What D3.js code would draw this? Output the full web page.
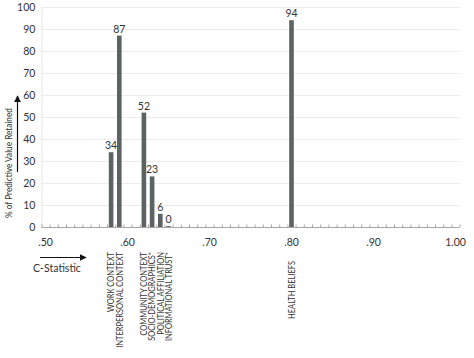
<!DOCTYPE html>
<html>
<head>
<meta charset="utf-8">
<script src="https://cdn.jsdelivr.net/npm/d3@7"></script>
<style>
  html, body { margin: 0; padding: 0; background: #fff; }
  svg { display: block; }
  text { font-family: Lato, "Open Sans", sans-serif; fill: #333; }
</style>
</head>
<body>
<svg id="chart" width="474" height="358"></svg>
<script>
// ---- data ----
const categories = ["WORK CONTEXT", "INTERPERSONAL CONTEXT", "COMMUNITY CONTEXT",
  "SOCIO-DEMOGRAPHICS*", "POLITICAL AFFILIATION", "INFORMATIONAL TRUST*", "HEALTH BELIEFS"];
const cStatistic = [0.58, 0.59, 0.62, 0.63, 0.64, 0.65, 0.80];
const pctRetained = [34, 87, 52, 23, 6, 0.4, 94];
const xTickLabels = [".50", ".60", ".70", ".80", ".90", "1.00"];
const xTickValues = [0.50, 0.60, 0.70, 0.80, 0.90, 1.00];
const yTickValues = [0, 10, 20, 30, 40, 50, 60, 70, 80, 90, 100];

const svg = d3.select("#chart");
const x = d3.scaleLinear().domain([0.5, 1.0]).range([45.5, 455.5]);
const y = d3.scaleLinear().domain([0, 100]).range([227, 7]);
const x0 = x(0.495), x1 = x(1.005);

// gridlines
svg.append("g").selectAll("line").data(yTickValues.filter(d => d > 0)).join("line")
  .attr("x1", x0).attr("x2", x1)
  .attr("y1", d => y(d) + 0.5).attr("y2", d => y(d) + 0.5)
  .attr("stroke", "#ececec").attr("stroke-width", 1);

// y axis (light line, no ticks)
const yAxis = d3.axisLeft(y).tickValues(yTickValues).tickSize(0).tickPadding(6);
const gy = svg.append("g").attr("transform", `translate(${x0},0)`).call(yAxis);
gy.select(".domain").attr("stroke", "#e6e6e6");
gy.selectAll("text").attr("font-size", 10.5).attr("fill", "#333")
  .attr("font-family", "Lato, sans-serif");

// bars
const bw = 4.6;
svg.append("g").selectAll("rect").data(cStatistic).join("rect")
  .attr("x", d => x(d) - bw / 2)
  .attr("y", (d, i) => y(pctRetained[i]))
  .attr("width", bw)
  .attr("height", (d, i) => y(0) - y(pctRetained[i]))
  .attr("fill", "#5b6363");

// value labels
const fmt = d3.format(".0f");
svg.append("g").selectAll("text").data(cStatistic).join("text")
  .attr("x", d => x(d))
  .attr("y", (d, i) => y(pctRetained[i]) - 3)
  .attr("text-anchor", "middle")
  .attr("font-size", 10.5)
  .text((d, i) => fmt(pctRetained[i]));

// x axis: minor ticks between categories
const minorTicks = d3.range(0, 52).map(k => 0.495 + k * 0.01);
const xAxis = d3.axisBottom(x).tickValues(minorTicks).tickSize(-3).tickFormat("");
const gx = svg.append("g").attr("transform", `translate(0,${y(0) + 0.5})`).call(xAxis);
gx.select(".domain").attr("stroke", "#a8a8a8").attr("d", `M${x0},0H${x1}`);
gx.selectAll(".tick line").attr("stroke", "#a8a8a8");

// x tick labels
svg.append("g").selectAll("text").data(xTickValues).join("text")
  .attr("x", d => x(d))
  .attr("y", 246)
  .attr("text-anchor", "middle")
  .attr("font-size", 10.5)
  .text((d, i) => xTickLabels[i]);

// category labels (rotated, condensed)
svg.append("g").selectAll("text").data(cStatistic).join("text")
  .attr("transform", (d, i) => `translate(${x(d) + 3.2},${categories[i] === "HEALTH BELIEFS" ? 261 : 252}) rotate(-90) scale(0.79,1)`)
  .attr("text-anchor", "end")
  .attr("font-size", 9.5)
  .attr("fill", "#222")
  .text((d, i) => categories[i]);

// arrowhead marker
const defs = svg.append("defs");
defs.append("marker").attr("id", "arr").attr("viewBox", "0 0 10 10")
  .attr("refX", 9).attr("refY", 5).attr("markerWidth", 6).attr("markerHeight", 6)
  .attr("orient", "auto-start-reverse")
  .append("path").attr("d", "M0,0L10,5L0,10z").attr("fill", "#111");

// y title + arrow
svg.append("text")
  .attr("transform", "translate(11.5,163) rotate(-90) scale(0.84,1)")
  .attr("text-anchor", "middle")
  .attr("font-size", 9.8)
  .attr("fill", "#222")
  .text("% of Predictive Value Retained");
svg.append("line").attr("x1", 17.5).attr("x2", 17.5).attr("y1", 172).attr("y2", 96)
  .attr("stroke", "#111").attr("stroke-width", 1.2).attr("marker-end", "url(#arr)");

// x title + arrow
svg.append("line").attr("x1", 40).attr("x2", 86).attr("y1", 257.5).attr("y2", 257.5)
  .attr("stroke", "#111").attr("stroke-width", 1.2).attr("marker-end", "url(#arr)");
svg.append("text")
  .attr("x", 57).attr("y", 272)
  .attr("text-anchor", "middle")
  .attr("font-size", 10.5)
  .attr("fill", "#222")
  .text("C-Statistic");
</script>
</body>
</html>
